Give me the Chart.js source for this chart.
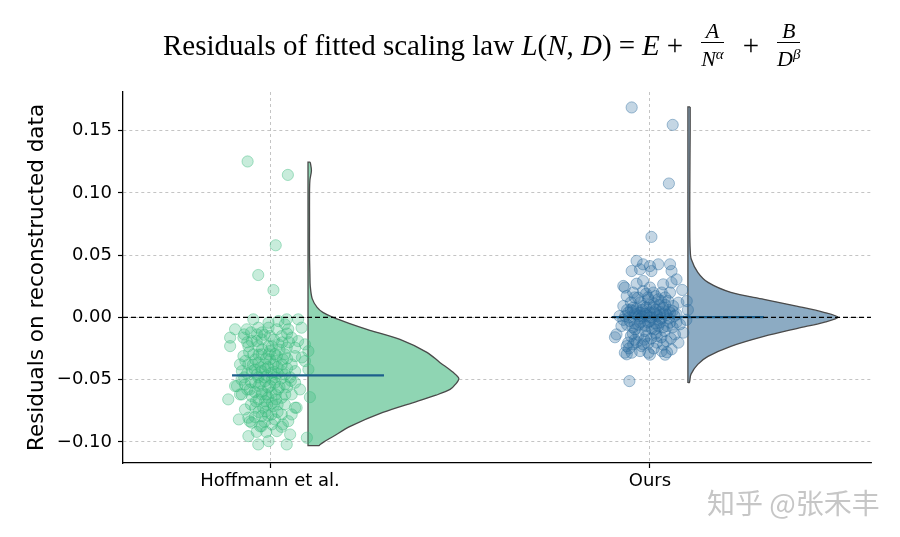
<!DOCTYPE html>
<html><head><meta charset="utf-8">
<script src="https://cdn.jsdelivr.net/npm/chart.js@4.4.1/dist/chart.umd.min.js"></script>
<style>
html,body{margin:0;padding:0;background:#fff;}
#wrap{position:relative;width:900px;height:537px;overflow:hidden;}
#title{position:absolute;top:19px;left:163px;font-family:"Liberation Serif","Times New Roman",serif;font-size:29px;color:#000;white-space:nowrap;line-height:52px;}
#title i{font-style:italic;}
#title .op{margin:0 7px;}
.frac{display:inline-block;vertical-align:middle;text-align:center;font-size:22px;line-height:20px;margin:0 12px 0 11px;position:relative;top:-3px;}
.frac .num{display:block;border-bottom:1px solid #000;padding:0 2px 1px;}
.frac .den{display:block;padding-top:1px;}
.frac sup{font-size:15px;vertical-align:7px;}
#wm{position:absolute;left:707px;top:482px;font-family:"Noto Sans CJK SC",sans-serif;font-size:28px;color:#c6c6c6;white-space:nowrap;}
</style>
</head><body>
<div id="wrap">
<canvas id="c" width="900" height="537"></canvas>
<div id="title">Residuals of fitted scaling law <i>L</i>(<i>N</i>, <i>D</i>)<span class="op">=</span><i>E</i><span class="op">+</span><span class="frac"><span class="num"><i>A</i></span><span class="den"><i>N</i><sup><i>α</i></sup></span></span><span class="op">+</span><span class="frac"><span class="num"><i>B</i></span><span class="den"><i>D</i><sup><i>β</i></sup></span></span></div>
<div id="wm">知乎 @张禾丰</div>
</div>
<script>
// ---------- data ----------
const categories = ['Hoffmann et al.', 'Ours'];
const yTicks = [-0.10, -0.05, 0.00, 0.05, 0.10, 0.15];
const meanResiduals = [-0.0466, 0.0002];

// [jitter offset, residual]
const hoffmannPoints = [
[-0.044,-0.0016],[-0.004,-0.0043],[0.022,-0.0030],[0.044,-0.0016],[0.074,-0.0016],
[-0.031,-0.0083],[-0.004,-0.0083],[0.018,-0.0096],[0.048,-0.0096],[0.083,-0.0083],
[-0.105,-0.0163],[-0.070,-0.0163],[-0.048,-0.0191],[-0.022,-0.0177],[0.000,-0.0150],
[0.031,-0.0150],[0.057,-0.0163],[0.074,-0.0191],[-0.105,-0.0231],[-0.057,-0.0231],
[-0.031,-0.0231],[-0.004,-0.0231],[0.022,-0.0217],[0.044,-0.0244],[0.066,-0.0244],
[0.101,-0.0271],[-0.070,-0.0311],[-0.044,-0.0297],[-0.022,-0.0297],[-0.004,-0.0297],
[0.018,-0.0311],[0.039,-0.0297],[0.066,-0.0311],[-0.079,-0.0378],[-0.057,-0.0378],
[-0.031,-0.0364],[-0.013,-0.0378],[0.009,-0.0378],[0.031,-0.0378],[0.057,-0.0378],
[0.092,-0.0351],[-0.074,-0.0432],[-0.048,-0.0432],[-0.022,-0.0432],[0.004,-0.0445],
[0.031,-0.0432],[0.066,-0.0432],[0.101,-0.0418],[-0.092,-0.0552],[-0.066,-0.0539],
[-0.039,-0.0525],[-0.013,-0.0512],[0.013,-0.0525],[0.039,-0.0539],[0.066,-0.0525],
[-0.110,-0.0659],[-0.079,-0.0619],[-0.048,-0.0633],[-0.022,-0.0619],[0.004,-0.0605],
[0.031,-0.0646],[0.057,-0.0619],[0.105,-0.0641],[-0.039,-0.0726],[-0.018,-0.0726],
[0.009,-0.0713],[0.039,-0.0699],[0.066,-0.0726],[-0.057,-0.0806],[-0.022,-0.0793],
[0.004,-0.0780],[0.031,-0.0780],[0.057,-0.0780],[-0.048,-0.0846],[-0.022,-0.0874],
[0.018,-0.0914],[0.048,-0.0834],[-0.057,-0.0954],[-0.031,-0.1021],[-0.004,-0.0994],
[0.044,-0.1021],[0.097,-0.0967],[0.070,-0.0726],[-0.013,-0.0673],
[-0.068,-0.0137],[-0.053,-0.0836],[-0.026,-0.0876],[-0.021,-0.0257],[0.000,-0.0338],
[-0.013,-0.0418],[0.013,-0.0482],[-0.031,-0.0482],[-0.005,-0.0563],[0.021,-0.0579],
[-0.021,-0.0595],[-0.039,-0.0338],[0.034,-0.0338],[0.005,-0.0233],[-0.021,-0.0121],
[0.032,-0.0201],[-0.005,-0.0643],[0.016,-0.0659],[-0.053,-0.0579],[-0.037,-0.0675],
[-0.011,-0.0756],[0.013,-0.0820],[0.034,-0.0860],[-0.068,-0.0482],[0.053,-0.0482],
[0.079,-0.0579],[-0.034,-0.0137],[-0.061,-0.0096],[-0.092,-0.0096],[0.039,-0.0056],
[0.092,-0.0217],[0.084,-0.0322],[-0.066,-0.0740],[-0.082,-0.0820],[0.053,-0.0941],
[-0.087,-0.0552],[-0.074,-0.0619],[0.013,-0.0295],[-0.008,-0.0470],[0.020,-0.0400],
[-0.030,-0.0550],[0.045,-0.0560],[0.005,-0.0690],
[-0.050,-0.0120],[-0.015,-0.0140],[0.010,-0.0180],[0.045,-0.0130],[-0.060,-0.0200],
[-0.035,-0.0190],[0.000,-0.0270],[0.025,-0.0260],[0.050,-0.0200],[-0.055,-0.0280],
[-0.030,-0.0300],[-0.010,-0.0330],[0.015,-0.0350],[0.045,-0.0330],[-0.065,-0.0350],
[-0.045,-0.0380],[-0.025,-0.0400],[-0.005,-0.0400],[0.020,-0.0450],[0.045,-0.0410],
[-0.060,-0.0450],[-0.035,-0.0460],[-0.015,-0.0480],[0.005,-0.0500],[0.030,-0.0490],
[0.055,-0.0510],[-0.075,-0.0500],[-0.050,-0.0520],[-0.025,-0.0530],[0.000,-0.0550],
[0.025,-0.0560],[-0.060,-0.0580],[-0.040,-0.0600],[-0.010,-0.0620],[0.015,-0.0620],
[0.040,-0.0620],[-0.030,-0.0660],[-0.008,-0.0700],[0.020,-0.0700],[-0.050,-0.0700],
[-0.030,-0.0760],[-0.005,-0.0790],[0.020,-0.0760],[-0.040,-0.0800],[-0.015,-0.0840],
[0.005,-0.0860],[0.030,-0.0880],[-0.035,-0.0920],[-0.010,-0.0920],[0.010,-0.0440],
[-0.040,-0.0420],[0.040,-0.0460],
[-0.059,0.1252],[0.047,0.1144],[0.015,0.0579],[-0.031,0.0340],[0.009,0.0219]
];

const oursPoints = [
[-0.035,0.0453],[-0.018,0.0426],[0.000,0.0412],[0.022,0.0426],[-0.048,0.0372],
[-0.026,0.0386],[0.004,0.0372],[0.057,0.0372],[-0.018,0.0292],[0.070,0.0305],
[0.035,0.0265],[0.057,0.0279],[-0.066,0.0239],[-0.044,0.0199],[-0.018,0.0211],
[0.009,0.0199],[0.031,0.0199],[0.053,0.0199],[-0.061,0.0171],[-0.031,0.0158],
[-0.004,0.0145],[0.022,0.0145],[0.048,0.0131],[0.075,0.0118],[0.097,0.0131],
[-0.070,0.0091],[-0.044,0.0078],[-0.018,0.0091],[0.009,0.0078],[0.035,0.0078],
[0.061,0.0091],[-0.057,0.0038],[-0.026,0.0038],[0.000,0.0038],[0.026,0.0038],
[0.053,0.0038],[-0.075,-0.0070],[-0.088,-0.0137],[-0.057,-0.0203],[-0.066,-0.0284],
[-0.048,-0.0284],[-0.026,-0.0271],[-0.004,-0.0284],[0.031,-0.0271],[0.057,-0.0257],
[0.075,-0.0203],[0.079,-0.0056],[0.066,-0.0137],[0.044,-0.0191],[-0.044,-0.0217],
[-0.018,-0.0217],[0.018,-0.0203],[0.088,-0.0123],[-0.065,0.0010],[-0.035,0.0024],
[-0.009,0.0012],[0.018,0.0024],[0.044,0.0020],[0.070,0.0024],[-0.053,-0.0030],
[-0.026,-0.0043],[0.000,-0.0030],[0.026,-0.0043],[0.053,-0.0043],[-0.039,-0.0096],
[-0.013,-0.0110],[0.013,-0.0096],[0.039,-0.0110],[-0.009,-0.0150],[0.018,-0.0150],
[0.000,0.0000],[-0.030,0.0010],[0.030,-0.0010],[-0.050,0.0060],[0.050,0.0060],
[0.010,0.0110],[-0.015,-0.0060],[0.035,-0.0080],[-0.045,-0.0130],[0.065,0.0010],
[-0.080,0.0010],[0.000,0.0240],[0.040,0.0160],[-0.035,0.0270],[0.045,-0.0280],
[0.010,-0.0250],[-0.055,-0.0250],[0.085,0.0220],[-0.020,0.0060],[0.015,-0.0050],
[-0.005,0.0160],[0.025,0.0100],[-0.040,-0.0050],[0.060,-0.0080],
[-0.061,-0.0297],[0.000,-0.0300],[0.040,-0.0300],[-0.092,-0.0160],[-0.061,-0.0231],
[-0.022,-0.0231],[0.053,0.0426],[-0.070,0.0252],[0.100,0.0060],[0.096,-0.0020],
[-0.055,0.0000],[-0.040,0.0030],[-0.025,-0.0010],[-0.010,0.0030],[0.005,0.0000],
[0.020,0.0010],[0.035,0.0030],[0.050,-0.0010],[-0.060,-0.0060],[-0.045,-0.0080],
[-0.030,-0.0060],[-0.010,-0.0070],[0.005,-0.0090],[0.022,-0.0070],[0.045,-0.0070],
[-0.050,-0.0150],[-0.030,-0.0140],[-0.015,-0.0180],[0.003,-0.0170],[0.030,-0.0160],
[0.055,-0.0170],[-0.035,-0.0200],[-0.005,-0.0210],[0.035,-0.0220],[-0.060,0.0060],
[-0.035,0.0070],[-0.010,0.0080],[0.015,0.0060],[0.040,0.0100],[-0.050,0.0120],
[-0.025,0.0120],[0.000,0.0100],[0.030,0.0130],[-0.040,0.0160],[-0.010,0.0190],
[0.015,0.0170],[-0.020,0.0010],[0.010,0.0040],[-0.005,-0.0040],[0.025,-0.0020],
[-0.045,0.0050],[0.060,0.0050],[-0.070,-0.0020],[0.070,-0.0040],[-0.015,0.0030],
[0.040,0.0040],[-0.040,-0.0180],[0.015,-0.0130],
[-0.048,0.1686],[0.060,0.1546],[0.050,0.1075],[0.004,0.0646],[-0.054,-0.0512]
];

// half-violin outlines: residual level and density half-width (x units)
const hoffmannViolinY = [0.1246,0.118,0.110,0.100,0.075,0.050,0.035,0.025,0.015,0.008,0.004,0.000,-0.005,-0.0096,-0.0177,-0.0281,-0.0362,-0.0442,-0.0490,-0.0535,-0.0579,-0.0625,-0.0675,-0.0764,-0.0876,-0.0957,-0.1000,-0.1021,-0.1030];
const hoffmannViolinW = [0.006,0.009,0.005,0.004,0.004,0.004,0.005,0.006,0.011,0.024,0.039,0.066,0.110,0.155,0.242,0.313,0.347,0.382,0.397,0.389,0.374,0.337,0.287,0.197,0.111,0.066,0.042,0.032,0.029];
const oursViolinY = [0.169,0.150,0.100,0.070,0.0547,0.0466,0.0362,0.0281,0.0201,0.0145,0.0088,0.0040,0.0000,-0.0040,-0.0088,-0.0153,-0.0233,-0.0314,-0.0378,-0.0458,-0.0523];
const oursViolinW = [0.006,0.006,0.005,0.005,0.006,0.009,0.026,0.053,0.113,0.200,0.289,0.358,0.395,0.358,0.289,0.200,0.113,0.053,0.026,0.008,0.004];

// ---------- build chart ----------
const VIOLIN_OFFSET = 0.1;
function pointsFor(cat, pts){ return pts.map(p => ({x: cat + p[0], y: p[1]})); }
function violinFor(cat, ys, ws){
  const base = cat + VIOLIN_OFFSET;
  const out = ys.map((y,i) => ({x: base + ws[i], y: y}));
  const top = ys[0], bot = ys[ys.length-1];
  out.push({x: base, y: bot}, {x: base, y: bot}, {x: base, y: top}, {x: base, y: top}, {x: base + ws[0], y: top});
  return out;
}
function meanLine(cat, m){ return [{x: cat - 0.1, y: m}, {x: cat + 0.3, y: m}]; }

const xMin = -0.387, xMax = 1.582;
const green = 'rgba(58,185,124,', blue = 'rgba(43,108,158,';

const datasets = [
  {data: [{x:xMin,y:0},{x:xMax,y:0}], showLine:true, pointRadius:0, borderColor:'#000', borderWidth:1.2, borderDash:[5,3], order:0},
  {data: meanLine(0, meanResiduals[0]), showLine:true, pointRadius:0, borderColor:'#1d5f8c', borderWidth:2.4, order:1},
  {data: meanLine(1, meanResiduals[1]), showLine:true, pointRadius:0, borderColor:'#1d5f8c', borderWidth:2.4, order:1},
  {data: pointsFor(0, hoffmannPoints), pointRadius:5.6, backgroundColor: green+'0.28)', borderColor: green+'0.42)', borderWidth:1, order:2},
  {data: pointsFor(1, oursPoints), pointRadius:5.6, backgroundColor: blue+'0.28)', borderColor: blue+'0.42)', borderWidth:1, order:2},
  {data: violinFor(0, hoffmannViolinY, hoffmannViolinW), showLine:true, pointRadius:0, tension:0.3, fill:'shape', backgroundColor:'#8fd5b3', borderColor:'#4a4a4a', borderWidth:1.3, order:3},
  {data: violinFor(1, oursViolinY, oursViolinW), showLine:true, pointRadius:0, tension:0.3, fill:'shape', backgroundColor:'#8cabc3', borderColor:'#4a4a4a', borderWidth:1.3, order:3}
];

const tickFont = {family:'DejaVu Sans', size:18};
const gridCommon = {color:'#b5b5b5', lineWidth:0.8, tickLength:5, tickColor:'#000', tickWidth:1.2, tickBorderDash:[]};
const borderCommon = {display:true, color:'#000', width:1.3, dash:[3,3]};

new Chart(document.getElementById('c'), {
  type: 'scatter',
  data: {datasets},
  options: {
    responsive:false, devicePixelRatio:1, animation:false,
    layout:{padding:{top:92, right:29, bottom:0, left:0}},
    plugins:{legend:{display:false}, tooltip:{enabled:false}},
    scales:{
      x:{type:'linear', min:xMin, max:xMax,
        afterBuildTicks: s => { s.ticks = categories.map((c,i)=>({value:i})); },
        ticks:{callback: v => categories[v] !== undefined ? categories[v] : '', font:tickFont, color:'#000', padding:3, maxRotation:0, autoSkip:false},
        grid: gridCommon, border: borderCommon,
        afterFit: s => { s.height = 74; }
      },
      y:{min:-0.117, max:0.181,
        afterBuildTicks: s => { s.ticks = yTicks.map(v=>({value:v})); },
        ticks:{callback: v => Number(v).toFixed(2).replace('-', '\u2212'), font:tickFont, color:'#000', padding:6},
        grid: gridCommon, border: borderCommon,
        title:{display:true, text:'Residuals on reconstructed data', font:{family:'DejaVu Sans', size:21.5}, color:'#000', padding:{top:25, bottom:0}},
        afterFit: s => { s.width = 123; }
      }
    }
  }
});
</script>
</body></html>
